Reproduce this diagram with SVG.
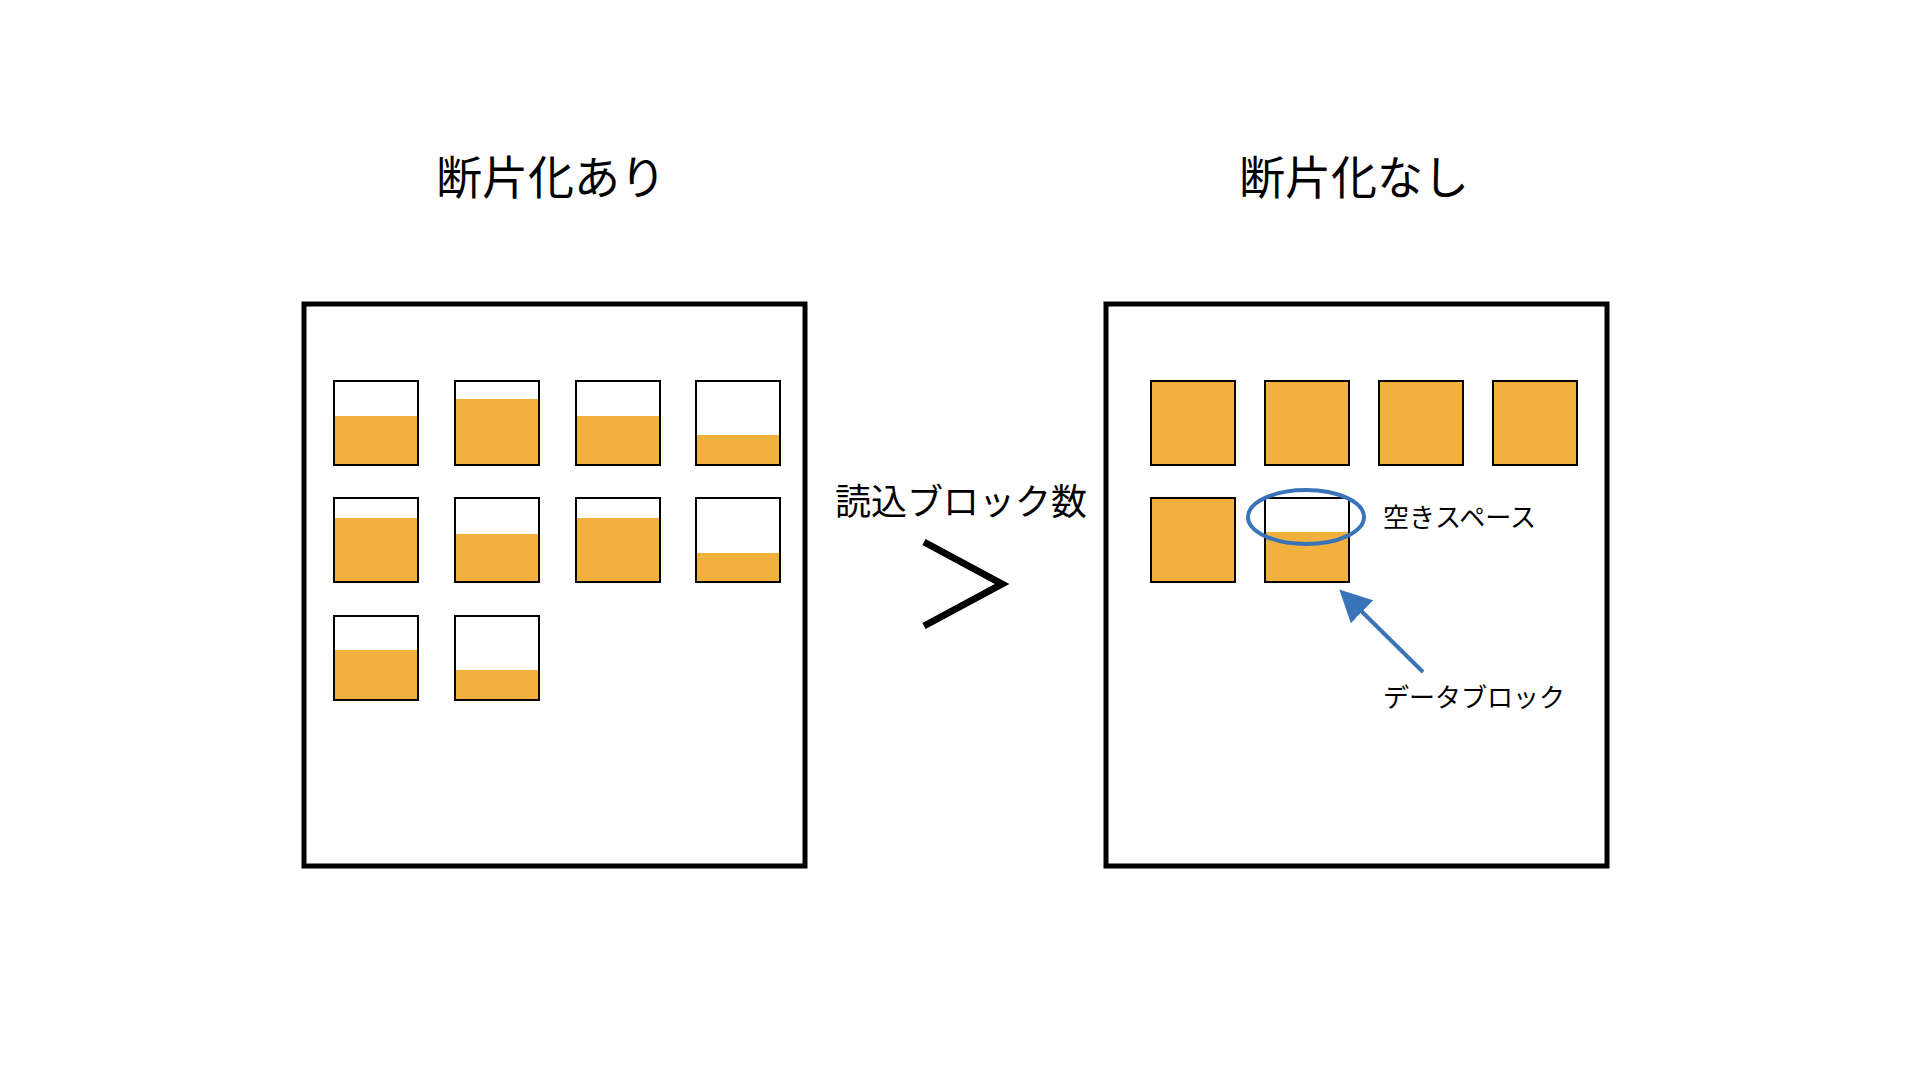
<svg xmlns="http://www.w3.org/2000/svg" width="1920" height="1080" viewBox="0 0 1920 1080">
<style>
text{font-family:"Noto Sans CJK JP","Noto Sans",sans-serif;fill:#000}
.frame{fill:#fff;stroke:#000;stroke-width:5}
.b{fill:#fff;stroke:#000;stroke-width:2}
.o{fill:#F2B13C}
</style>
<defs>
<marker id="ah" markerWidth="8" markerHeight="8" refX="6" refY="4" orient="auto" markerUnits="strokeWidth">
<path d="M0,0 L8,4 L0,8 Z" fill="#3A74B8"/></marker>
<g id="blk"><rect class="b" width="84" height="84"/></g>
</defs>
<rect width="1920" height="1080" fill="#fff"/>
<text x="551" y="194" font-size="46" text-anchor="middle">断片化あり</text>
<text x="1354" y="194" font-size="46" text-anchor="middle">断片化なし</text>
<g id="left">
<rect class="frame" x="304" y="304" width="501" height="562"/>
<rect class="b" x="334" y="381" width="84" height="84"/><rect class="o" x="335" y="416" width="82" height="48"/>
<rect class="b" x="455" y="381" width="84" height="84"/><rect class="o" x="456" y="399" width="82" height="65"/>
<rect class="b" x="576" y="381" width="84" height="84"/><rect class="o" x="577" y="416" width="82" height="48"/>
<rect class="b" x="696" y="381" width="84" height="84"/><rect class="o" x="697" y="435" width="82" height="29"/>
<rect class="b" x="334" y="498" width="84" height="84"/><rect class="o" x="335" y="518" width="82" height="63"/>
<rect class="b" x="455" y="498" width="84" height="84"/><rect class="o" x="456" y="534" width="82" height="47"/>
<rect class="b" x="576" y="498" width="84" height="84"/><rect class="o" x="577" y="518" width="82" height="63"/>
<rect class="b" x="696" y="498" width="84" height="84"/><rect class="o" x="697" y="553" width="82" height="28"/>
<rect class="b" x="334" y="616" width="84" height="84"/><rect class="o" x="335" y="650" width="82" height="49"/>
<rect class="b" x="455" y="616" width="84" height="84"/><rect class="o" x="456" y="670" width="82" height="29"/>
</g>
<g id="compare">
<text x="961" y="515" font-size="36" text-anchor="middle">読込ブロック数</text>
<polyline points="924,542 1002,584 924,626" fill="none" stroke="#000" stroke-width="7"/>
</g>
<g id="right">
<rect class="frame" x="1106" y="304" width="501" height="562"/>
<rect class="b o" x="1151" y="381" width="84" height="84" style="fill:#F2B13C"/>
<rect class="b" x="1265" y="381" width="84" height="84" style="fill:#F2B13C"/>
<rect class="b" x="1379" y="381" width="84" height="84" style="fill:#F2B13C"/>
<rect class="b" x="1493" y="381" width="84" height="84" style="fill:#F2B13C"/>
<rect class="b" x="1151" y="498" width="84" height="84" style="fill:#F2B13C"/>
<rect class="b" x="1265" y="498" width="84" height="84"/><rect class="o" x="1266" y="532" width="82" height="49"/>
</g>
<g id="connectors">
<ellipse cx="1306" cy="517" rx="58" ry="27" fill="none" stroke="#3A74B8" stroke-width="4"/>
<line x1="1423" y1="672" x2="1345" y2="595" stroke="#3A74B8" stroke-width="4" marker-end="url(#ah)"/>
</g>
<text x="1383" y="527" font-size="26">空きスペース</text>
<text x="1383" y="707" font-size="26">データブロック</text>
</svg>
